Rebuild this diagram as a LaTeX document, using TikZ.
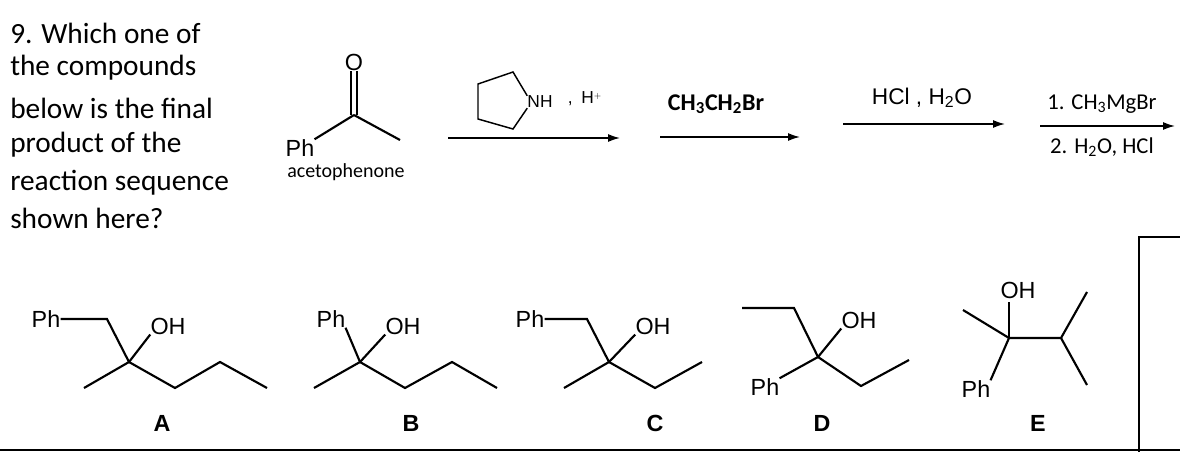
\documentclass[tikz,border=0pt]{standalone}
\usepackage{fontspec}
\usetikzlibrary{arrows.meta}
\setmainfont{Carlito}
\newfontfamily\arialf{Liberation Sans}
\begin{document}
\begin{tikzpicture}[x=0.75pt,y=-0.75pt,
  bond/.style={line width=1.6pt},
  atom/.style={font=\arialf\fontsize{17.5}{18}\selectfont,inner sep=0pt},
  lbl/.style={font=\arialf\bfseries\fontsize{17.5}{18}\selectfont,inner sep=0pt},
  q/.style={font=\fontsize{22}{24}\selectfont,anchor=west,inner sep=0pt},
  rg/.style={font=\fontsize{17}{18}\selectfont,inner sep=0pt},
  rxn/.style={line width=1.1pt,-{Latex[length=9pt,width=6pt]}}]
\useasboundingbox (0,0) rectangle (1180,452);
% question
\node[q] (q1) at (10,33) {9. Which one of};
\node[q] (q2) at (10,68) {the compounds};
\node[q] (q3) at (10,108) {below is the final};
\node[q] (q4) at (10,145) {product of the};
\node[q] (q5) at (10,183) {reaction sequence};
\node[q] (q6) at (10,218) {shown here?};
% acetophenone
\coordinate (acC) at (354,115);
\node[atom] (acO) at (354,62) {O};
\node[atom] (acPh) at (300,148) {Ph};
\coordinate (acMe) at (400,140);
\draw[bond] (acC) -- (acPh.north east);
\draw[bond] (acC) -- (acMe);
\draw[bond] ([xshift=-2.5pt]acC) -- ([xshift=-2.5pt]acO.south);
\draw[bond] ([xshift=2.5pt]acC) -- ([xshift=2.5pt]acO.south);
\node[rg,font=\fontsize{15}{16}\selectfont] (acn) at (346,172) {acetophenone};
% arrow 1
\coordinate (a1s) at (448,138); \coordinate (a1e) at (620,138);
\draw[rxn] (a1s) -- (a1e);
\coordinate (r1) at (478,84); \coordinate (r2) at (513,72);
\coordinate (r4) at (513,129); \coordinate (r5) at (478,119);
\node[atom,font=\arialf\fontsize{13}{14}\selectfont] (NH) at (540,102) {NH};
\draw[line width=1.1pt] (NH.north west) -- (r2) -- (r1) -- (r5) -- (r4) -- (NH.south west);
\node[atom,font=\arialf\fontsize{13}{14}\selectfont] (hp) at (585,99) {,\enspace H$^{\scriptscriptstyle +}$};
% arrow 2
\coordinate (a2s) at (660,137); \coordinate (a2e) at (800,137);
\draw[rxn] (a2s) -- (a2e);
\node[rg,font=\bfseries\fontsize{18}{20}\selectfont] (r2l) at (716,104) {CH\textsubscript{3}CH\textsubscript{2}Br};
% arrow 3
\coordinate (a3s) at (843,124); \coordinate (a3e) at (1005,124);
\draw[rxn] (a3s) -- (a3e);
\node[atom,font=\arialf\fontsize{17}{18}\selectfont] (r3l) at (922,98) {HCl , H\textsubscript{2}O};
% arrow 4
\coordinate (a4s) at (1040,126); \coordinate (a4e) at (1175,126);
\draw[rxn] (a4s) -- (a4e);
\node[rg] (r4a) at (1102,104) {1. CH\textsubscript{3}MgBr};
\node[rg] (r4b) at (1102,147) {2. H\textsubscript{2}O, HCl};
% A
\node[atom] (APh) at (46,319) {Ph};
\coordinate (A1) at (107,319); \coordinate (AC) at (129,362);
\node[atom] (AOH) at (168,326) {OH};
\draw[bond] (APh.east) -- (A1) -- (AC) -- (84,388);
\draw[bond] (AC) -- (AOH.south west);
\draw[bond] (AC) -- (175,388) -- (220,362) -- (267,388);
\node[lbl] (LA) at (162,423) {A};
% B
\node[atom] (BPh) at (331,319) {Ph};
\coordinate (BC) at (360,362);
\node[atom] (BOH) at (403,326) {OH};
\draw[bond] (BPh.south east) -- (BC) -- (314,388);
\draw[bond] (BC) -- (BOH.south west);
\draw[bond] (BC) -- (405,388) -- (452,362) -- (497,388);
\node[lbl] (LB) at (411,423) {B};
% C
\node[atom] (CPh) at (530,319) {Ph};
\coordinate (C1) at (587,319); \coordinate (CC) at (609,362);
\node[atom] (COH) at (653,326) {OH};
\draw[bond] (CPh.east) -- (C1) -- (CC) -- (564,388);
\draw[bond] (CC) -- (COH.south west);
\draw[bond] (CC) -- (655,388) -- (702,362);
\node[lbl] (LC) at (655,423) {C};
% D
\coordinate (DC) at (818,357);
\node[atom] (DOH) at (859,320) {OH};
\node[atom] (DPh) at (765,387) {Ph};
\draw[bond] (742,308) -- (794,308) -- (DC);
\draw[bond] (DC) -- (DOH.south west);
\draw[bond] (DC) -- (DPh.north east);
\draw[bond] (DC) -- (861,386) -- (909,360);
\node[lbl] (LD) at (822,423) {D};
% E
\coordinate (EC) at (1009,338); \coordinate (EC2) at (1061,338);
\node[atom] (EOH) at (1018,290) {OH};
\node[atom] (EPh) at (976,389) {Ph};
\draw[bond] (EC) -- (1009,302);
\draw[bond] (963,310) -- (EC) -- (EPh.north east);
\draw[bond] (EC) -- (EC2) -- (1087,292);
\draw[bond] (EC2) -- (1087,385);
\node[lbl] (LE) at (1038,423) {E};
% frame lines
\draw[line width=1pt] (1139,452) -- (1139,237) -- (1180,237);
\draw[line width=1.2pt] (0,450) -- (1180,450);
\end{tikzpicture}
\end{document}
